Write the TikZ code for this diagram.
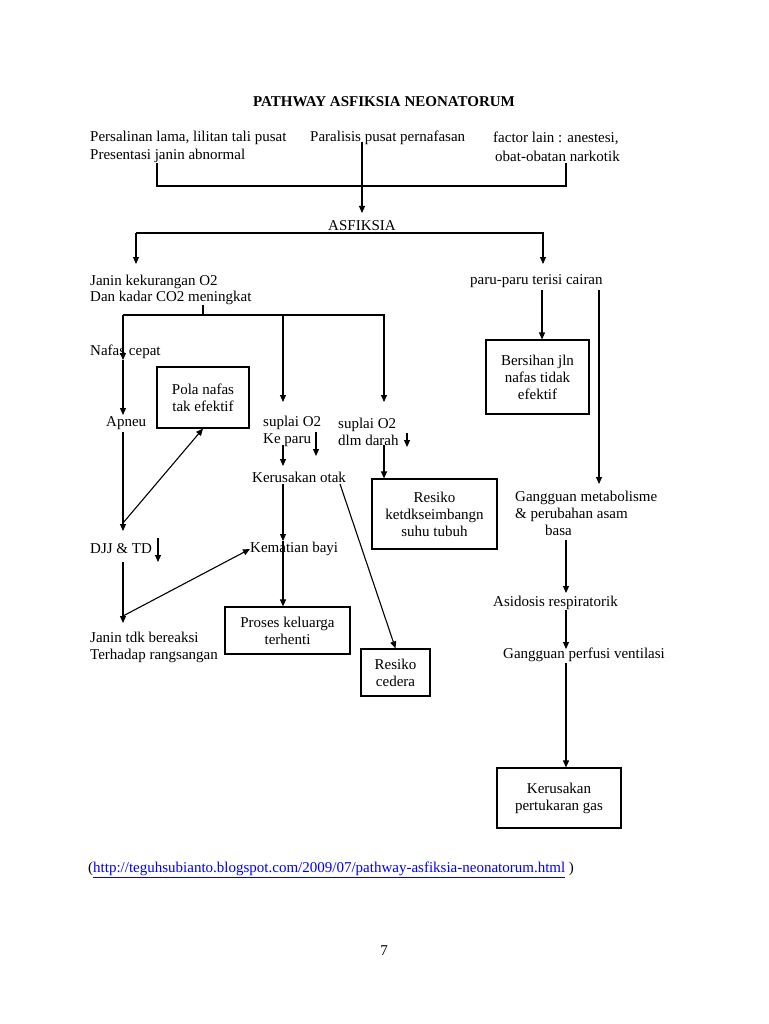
\documentclass[tikz,border=0pt]{standalone}
\usepackage{fontspec}
\setmainfont{Liberation Serif}
\usetikzlibrary{arrows.meta}
\begin{document}
\begin{tikzpicture}[x=1pt,y=-1pt,
  every node/.style={inner sep=0pt,font=\fontsize{15}{17}\selectfont},
  t/.style={anchor=west},
  bx/.style={draw,line width=1.2pt,align=center},
  ar/.style={-{Triangle[length=7pt,width=6pt]},line width=1.1pt},
  ln/.style={line width=1.1pt}]
\useasboundingbox (0,0) rectangle (768,1024);
\node[font=\fontsize{15}{17}\selectfont\bfseries] (title) at (384,102) {PATHWAY ASFIKSIA NEONATORUM};
\node[t] (p1) at (90,138) {Persalinan lama, lilitan tali pusat};
\node[t] (p2) at (90,156) {Presentasi janin abnormal};
\node[t] (par) at (310,138) {Paralisis pusat pernafasan};
\node[t] (f1) at (493,138) {factor lain : anestesi,};
\node[t] (f2) at (495,156) {obat-obatan narkotik};
\node (asf) at (362,226) {ASFIKSIA};
\node[t] (jk1) at (90,282) {Janin kekurangan O2};
\node[t] (jk2) at (90,298) {Dan kadar CO2 meningkat};
\node[t] (paru) at (470,281) {paru-paru terisi cairan};
\node[bx,minimum width=103,minimum height=74] (bers) at (537.5,377) {Bersihan jln\\nafas tidak\\efektif};
\node[t] (nafas) at (90,352) {Nafas cepat};
\node[bx,minimum width=92,minimum height=61] (pola) at (203,397.5) {Pola nafas\\tak efektif};
\node[t] (apneu) at (106,423) {Apneu};
\node[t,align=left] (s1) at (263,431.5) {suplai O2\\Ke paru};
\node[t,align=left] (s2) at (338,431.5) {suplai O2\\dlm darah};
\node[t] (ko) at (252,477) {Kerusakan otak};
\node[bx,minimum width=125,minimum height=70] (rk) at (434.5,514) {Resiko\\ketdkseimbangn\\suhu tubuh};
\node[t] (djj) at (90,549) {DJJ \& TD};
\node[t] (kb) at (250,549) {Kematian bayi};
\node[bx,minimum width=125,minimum height=47] (pk) at (287.5,630.5) {Proses keluarga\\terhenti};
\node[bx,minimum width=69,minimum height=47] (rc) at (395.5,672.5) {Resiko\\cedera};
\node[t,align=left] (jt) at (90,647) {Janin tdk bereaksi\\Terhadap rangsangan};
\node[t,align=left] (gm) at (515,513) {Gangguan metabolisme\\\& perubahan asam\\\hspace{30pt}basa};
\node[t] (as) at (493,603) {Asidosis respiratorik};
\node[t] (gp) at (503,655) {Gangguan perfusi ventilasi};
\node[bx,minimum width=124,minimum height=60] (kg) at (559,798) {Kerusakan\\pertukaran gas};
\node[t] (url) at (88,870) {(\textcolor{blue}{\underline{http://teguhsubianto.blogspot.com/2009/07/pathway-asfiksia-neonatorum.html}} )};
\node (pg) at (384,951) {7};
% top bracket
\coordinate (b1) at (157,163); \coordinate (b2) at (566,163);
\draw[ln] (b1) -- (157,186) -- (566,186) -- (b2);
\coordinate (pa) at (362,142); \coordinate (pb) at (362,213);
\draw[ar] (pa) -- (pb);
% asfiksia split
\coordinate (a1) at (136,264); \coordinate (a2) at (543,264);
\draw[ar] (136,233) -- (543,233) -- (a2);
\draw[ar] (136,233) -- (a1);
% paru
\draw[ar] (542,290) -- (bers.north -| 542,0);
\coordinate (gmr) at (599,484);
\draw[ar] (599,290) -- (gmr);
% janin split
\draw[ln] (203,305) -- (203,315);
\draw[ar] (123,315) -- (384,315) -- (384,402);
\draw[ar] (283,315) -- (283,402);
\draw[ar] (123,315) -- (123,360);
\draw[ar] (123,360) -- (123,415);
\draw[ar] (123,432) -- (123,531);
\draw[ar] (123,523) -- (pola.south);
\draw[ar] (316,432) -- (316,456);
\draw[ar] (407,433) -- (407,447);
\draw[ar] (283,445) -- (283,466);
\draw[ar] (384,445) -- (rk.north -| 384,0);
\draw[ar] (283,484) -- (283,541);
\draw[ar] (283,541) -- (pk.north -| 283,0);
\draw[ar] (340,484) -- (rc.north);
\draw[ar] (158,538) -- (158,562);
\draw[ar] (123,562) -- (123,623);
\draw[ar] (123,616) -- (kb.west);
% right chain
\draw[ar] (566,540) -- (566,593);
\draw[ar] (566,610) -- (566,649);
\draw[ar] (566,663) -- (kg.north -| 566,0);
\end{tikzpicture}
\end{document}
